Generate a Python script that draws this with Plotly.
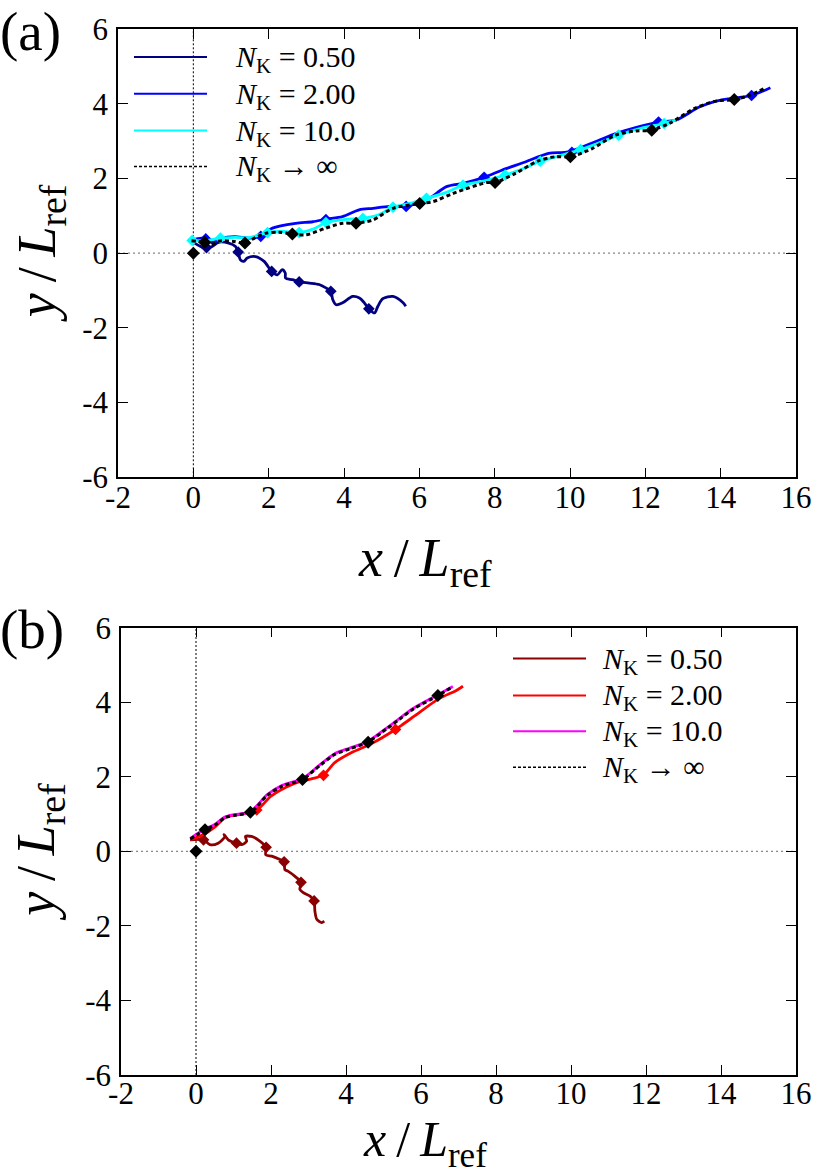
import plotly.graph_objects as go

# ---------------- data: panel (a) ----------------
a_05_x = [-0.03, 0.32, 0.50, 0.67, 0.94, 1.12, 1.19, 1.25, 1.34, 1.43, 1.65, 1.88, 2.08, 2.23, 2.36, 2.44, 2.45, 2.63,
          2.81, 3.08, 3.34, 3.52, 3.65, 3.70, 3.79, 3.96, 4.23, 4.41, 4.54, 4.66, 4.81, 4.90, 5.03, 5.30, 5.57, 5.64]
a_05_y = [0.31, 0.13, 0.18, 0.29, 0.27, 0.18, 0.03, -0.18, -0.22, -0.13, -0.09, -0.22, -0.49, -0.58, -0.44, -0.53, -0.67,
          -0.71, -0.77, -0.80, -0.84, -0.93, -1.02, -1.24, -1.38, -1.33, -1.16, -1.20, -1.33, -1.49, -1.60, -1.42, -1.22,
          -1.16, -1.33, -1.42]
a_05_mx = [0.35, 1.19, 2.08, 2.81, 3.65, 4.66]
a_05_my = [0.15, 0.03, -0.49, -0.77, -1.02, -1.49]

a_2_x = [-0.05, 0.25, 0.40, 0.55, 0.75, 1.10, 1.50, 1.79, 2.10, 2.72, 3.17, 3.52, 3.96, 4.40, 4.77, 5.20, 5.65, 6.19,
         6.72, 7.16, 7.72, 8.19, 8.81, 9.43, 9.96, 10.67, 11.21, 11.74, 12.35, 12.81, 13.43, 13.88, 14.41, 14.82, 15.32]
a_2_y = [0.35, 0.40, 0.30, 0.30, 0.40, 0.44, 0.40, 0.45, 0.67, 0.80, 0.84, 0.91, 0.98, 1.16, 1.20, 1.25, 1.25, 1.42,
         1.78, 1.87, 2.03, 2.22, 2.44, 2.67, 2.71, 2.98, 3.20, 3.36, 3.51, 3.56, 3.91, 4.07, 4.16, 4.22, 4.43]
a_2_mx = [0.33, 1.79, 3.52, 5.65, 7.72, 10.05, 12.35, 14.82]
a_2_my = [0.38, 0.45, 0.90, 1.25, 2.03, 2.70, 3.51, 4.22]

a_10_x = [-0.05, 0.30, 0.72, 1.10, 1.50, 1.97, 2.40, 2.81, 3.20, 3.52, 4.00, 4.50, 4.90, 5.30, 5.75, 6.19, 6.70, 7.16,
          7.70, 8.28, 8.80, 9.21, 9.70, 10.28, 10.80, 11.29, 11.90, 12.50, 12.85]
a_10_y = [0.34, 0.33, 0.40, 0.42, 0.42, 0.55, 0.58, 0.55, 0.65, 0.82, 0.90, 0.93, 1.02, 1.23, 1.33, 1.47, 1.62, 1.82,
          1.93, 2.09, 2.28, 2.46, 2.60, 2.77, 2.96, 3.16, 3.35, 3.47, 3.58]
a_10_mx = [-0.03, 0.72, 1.97, 2.81, 3.52, 4.50, 5.30, 6.19, 7.16, 8.28, 9.21, 10.28, 11.29, 12.50]
a_10_my = [0.34, 0.40, 0.55, 0.55, 0.82, 0.93, 1.23, 1.47, 1.82, 2.09, 2.46, 2.77, 3.16, 3.47]

a_inf_x = [-0.05, 0.30, 0.45, 0.67, 1.04, 1.37, 1.56, 1.92, 2.27, 2.63, 2.99, 3.52, 3.96, 4.32, 4.77, 5.30, 6.01, 6.37,
           6.90, 7.79, 8.01, 8.54, 9.16, 9.61, 10.01, 10.59, 11.21, 11.74, 12.17, 12.63, 13.34, 13.88, 14.36, 14.76, 15.20]
a_inf_y = [0.33, 0.29, 0.22, 0.32, 0.32, 0.27, 0.37, 0.53, 0.56, 0.51, 0.49, 0.67, 0.80, 0.80, 0.89, 1.20, 1.33, 1.38,
           1.60, 1.89, 1.89, 2.13, 2.47, 2.58, 2.58, 2.80, 3.16, 3.27, 3.29, 3.47, 3.89, 4.07, 4.11, 4.22, 4.43]
a_inf_mx = [0.0, 0.30, 1.37, 2.63, 4.32, 6.01, 8.01, 10.01, 12.17, 14.36]
a_inf_my = [0.0, 0.29, 0.27, 0.51, 0.80, 1.33, 1.89, 2.58, 3.29, 4.11]

# ---------------- data: panel (b) ----------------
b_05_x = [-0.16, 0.20, 0.37, 0.59, 0.77, 0.75, 0.86, 1.08, 1.22, 1.35, 1.32, 1.48, 1.71, 1.87, 1.86, 2.02, 2.24, 2.35,
          2.37, 2.45, 2.64, 2.80, 2.77, 2.86, 3.04, 3.15, 3.17, 3.22, 3.35, 3.42]
b_05_y = [0.31, 0.31, 0.18, 0.22, 0.40, 0.45, 0.31, 0.22, 0.18, 0.27, 0.40, 0.40, 0.27, 0.11, -0.09, -0.13, -0.22,
          -0.28, -0.49, -0.53, -0.67, -0.83, -1.02, -1.11, -1.20, -1.33, -1.60, -1.82, -1.91, -1.87]
b_05_mx = [0.20, 1.08, 1.87, 2.35, 2.80, 3.15]
b_05_my = [0.31, 0.22, 0.11, -0.28, -0.83, -1.33]

b_2_x = [-0.15, 0.20, 0.50, 0.80, 1.10, 1.62, 2.00, 2.40, 2.80, 3.10, 3.40, 3.70, 4.15, 4.68, 5.32, 5.48, 5.84, 6.47,
         6.93, 7.12]
b_2_y = [0.31, 0.45, 0.65, 0.92, 0.98, 1.11, 1.48, 1.72, 1.88, 1.95, 2.05, 2.38, 2.65, 2.89, 3.27, 3.38, 3.64, 4.09,
         4.31, 4.43]
b_2_mx = [1.62, 3.40, 5.32]
b_2_my = [1.11, 2.04, 3.27]

b_10_x = [-0.15, 0.24, 0.50, 0.77, 1.04, 1.46, 1.90, 2.30, 2.84, 3.30, 3.70, 4.10, 4.58, 5.10, 5.50, 5.80, 6.45, 6.85]
b_10_y = [0.35, 0.60, 0.72, 0.92, 0.99, 1.07, 1.52, 1.77, 1.95, 2.32, 2.62, 2.77, 2.95, 3.32, 3.62, 3.84, 4.20, 4.42]

b_inf_x = [-0.15, 0.24, 0.50, 0.77, 1.04, 1.46, 1.90, 2.30, 2.84, 3.30, 3.70, 4.10, 4.58, 5.10, 5.50, 5.80, 6.45, 6.82]
b_inf_y = [0.33, 0.58, 0.70, 0.90, 0.97, 1.05, 1.50, 1.75, 1.93, 2.30, 2.60, 2.75, 2.93, 3.30, 3.60, 3.82, 4.18, 4.40]
b_inf_mx = [0.0, 0.24, 1.45, 2.84, 4.59, 6.45]
b_inf_my = [0.0, 0.58, 1.05, 1.93, 2.93, 4.18]

legend_labels = ["<i>N</i><sub>K</sub> = 0.50", "<i>N</i><sub>K</sub> = 2.00",
                 "<i>N</i><sub>K</sub> = 10.0", "<i>N</i><sub>K</sub> → ∞"]
colors_a = ["#000080", "#0000ff", "#00ffff", "black"]
colors_b = ["#8b0000", "#ff0000", "#ff00ff", "black"]

x_ticks = list(range(-2, 17, 2))
x_ticktext = [str(v) for v in x_ticks]
y_ticks = list(range(-6, 7, 2))
y_ticktext = [str(v) for v in y_ticks]

SERIF = "Liberation Serif"

fig = go.Figure()


def add_series(xs, ys, color, xa, ya, mx=None, my=None, width=2.8, dash=None, msize=9):
    fig.add_trace(go.Scatter(x=xs, y=ys, mode="lines", xaxis=xa, yaxis=ya, showlegend=False, hoverinfo="skip",
                             line=dict(color=color, width=width, dash=dash, shape="spline", smoothing=0.8)))
    if mx is not None:
        fig.add_trace(go.Scatter(x=mx, y=my, mode="markers", xaxis=xa, yaxis=ya, showlegend=False, hoverinfo="skip",
                                 marker=dict(symbol="diamond", size=msize, color=color, line=dict(width=0))))


# reference lines (drawn first, underneath)
for xa, ya in (("x", "y"), ("x2", "y2")):
    fig.add_trace(go.Scatter(x=[-2, 16], y=[0, 0], mode="lines", xaxis=xa, yaxis=ya, showlegend=False,
                             hoverinfo="skip", line=dict(color="#888888", width=1.2, dash="2px,3px")))
    fig.add_trace(go.Scatter(x=[0, 0], y=[-6, 6], mode="lines", xaxis=xa, yaxis=ya, showlegend=False,
                             hoverinfo="skip", line=dict(color="black", width=1, dash="2px,2px")))

# panel (a)
add_series(a_05_x, a_05_y, colors_a[0], "x", "y", a_05_mx, a_05_my)
add_series(a_2_x, a_2_y, colors_a[1], "x", "y", a_2_mx, a_2_my)
add_series(a_10_x, a_10_y, colors_a[2], "x", "y", a_10_mx, a_10_my)
add_series(a_inf_x, a_inf_y, "black", "x", "y", a_inf_mx, a_inf_my, width=3, dash="4px,3px", msize=10)

# panel (b)
add_series(b_05_x, b_05_y, colors_b[0], "x2", "y2", b_05_mx, b_05_my)
add_series(b_2_x, b_2_y, colors_b[1], "x2", "y2", b_2_mx, b_2_my)
add_series(b_10_x, b_10_y, colors_b[2], "x2", "y2")
add_series(b_inf_x, b_inf_y, "black", "x2", "y2", b_inf_mx, b_inf_my, width=3, dash="4px,3px", msize=10)

# layout geometry (pixels)
W, H = 825, 1174
ML, MR, MT, MB = 118, 29, 25, 99
PW = W - ML - MR
PH = H - MT - MB


def px(xp):
    return (xp - ML) / PW


def py(yp):
    return (H - MB - yp) / PH


axis_common = dict(showgrid=False, zeroline=False, showline=True, linecolor="black", linewidth=1.5,
                   mirror="ticks", ticks="inside", ticklen=10, tickwidth=1, tickcolor="black",
                   tickfont=dict(family=SERIF, size=31, color="black"))
ya_extra = dict(ticklabelstandoff=2)

fig.update_layout(
    width=W, height=H, margin=dict(l=ML, r=MR, t=MT, b=MB),
    paper_bgcolor="white", plot_bgcolor="white", showlegend=False,
    font=dict(family=SERIF, color="black"),
    xaxis=dict(axis_common, ticklabelstandoff=-8, domain=[0, 1], range=[-2, 16], tickvals=x_ticks,
               ticktext=x_ticktext, anchor="y"),
    yaxis=dict(axis_common, **ya_extra, domain=[py(475), 1], range=[-6, 6], tickvals=y_ticks, ticktext=y_ticktext,
               anchor="x"),
    xaxis2=dict(axis_common, ticklabelstandoff=-10, domain=[px(121), 1], range=[-2, 16], tickvals=x_ticks,
                ticktext=x_ticktext, anchor="y2"),
    yaxis2=dict(axis_common, **ya_extra, domain=[0, py(626)], range=[-6, 6], tickvals=y_ticks,
                ticktext=y_ticktext, anchor="x2"),
)

ann = []
shapes = []
# panel labels
ann.append(dict(text="(a)", x=px(-2), y=py(28), xref="paper", yref="paper", xanchor="left", yanchor="middle",
                showarrow=False, font=dict(family=SERIF, size=55, color="black")))
ann.append(dict(text="(b)", x=px(-2), y=py(628), xref="paper", yref="paper", xanchor="left", yanchor="middle",
                showarrow=False, font=dict(family=SERIF, size=55, color="black")))
# axis titles
xtitle = "<i>x</i>\u2009/\u2009<i>L</i><sub>ref</sub>"
ytitle = "<i>y</i>\u2009/\u2009<i>L</i><sub>ref</sub>"
for yy, fs in ((560, 54), (1143, 50)):
    ann.append(dict(text=xtitle, x=px(425), y=py(yy), xref="paper", yref="paper", xanchor="center",
                    yanchor="middle", showarrow=False, font=dict(family=SERIF, size=fs, color="black")))
for yy in (250, 851):
    ann.append(dict(text=ytitle, x=px(40), y=py(yy), xref="paper", yref="paper", xanchor="center",
                    yanchor="middle", textangle=-90, showarrow=False,
                    font=dict(family=SERIF, size=54, color="black")))

# legends (drawn manually to match sample-line length)
leg_a = dict(x0=134, x1=207, xt=233, rows=[53, 90, 127, 163], colors=colors_a)
leg_b = dict(x0=513, x1=586, xt=600, rows=[657, 694, 730, 766], colors=colors_b)
for leg in (leg_a, leg_b):
    for i, (row, col, lab) in enumerate(zip(leg["rows"], leg["colors"], legend_labels)):
        dash = "3px,2px" if i == 3 else "solid"
        shapes.append(dict(type="line", xref="paper", yref="paper", x0=px(leg["x0"]), x1=px(leg["x1"]),
                           y0=py(row), y1=py(row), line=dict(color=col, width=2 if i < 3 else 1.5, dash=dash)))
        ann.append(dict(text=lab, x=px(leg["xt"]), y=py(row + 2), xref="paper", yref="paper", xanchor="left",
                        yanchor="middle", showarrow=False, font=dict(family=SERIF, size=30, color="black")))

fig.update_layout(annotations=ann, shapes=shapes)
fig.write_html("out.html")
